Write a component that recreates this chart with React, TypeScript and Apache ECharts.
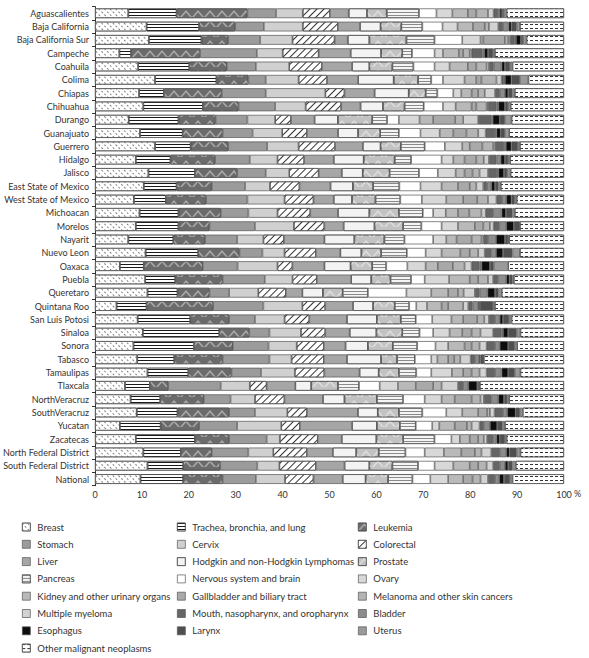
import { useEffect, useRef } from 'react';
import * as echarts from 'echarts';

// Share (%) of cancer deaths by site, per state
const states = [
  'Aguascalientes', 'Baja California', 'Baja California Sur', 'Campeche', 'Coahuila', 'Colima',
  'Chiapas', 'Chihuahua', 'Durango', 'Guanajuato', 'Guerrero', 'Hidalgo', 'Jalisco',
  'East State of Mexico', 'West State of Mexico', 'Michoacan', 'Morelos', 'Nayarit',
  'Nuevo Leon', 'Oaxaca', 'Puebla', 'Queretaro', 'Quintana Roo', 'San Luis Potosi',
  'Sinaloa', 'Sonora', 'Tabasco', 'Tamaulipas', 'Tlaxcala', 'NorthVeracruz', 'SouthVeracruz',
  'Yucatan', 'Zacatecas', 'North Federal District', 'South Federal District', 'National',
];

const sites = [
  'Breast', 'Trachea, bronchia, and lung', 'Leukemia', 'Stomach', 'Cervix', 'Colorectal',
  'Liver', 'Hodgkin and non-Hodgkin Lymphomas', 'Prostate', 'Pancreas', 'Nervous system and brain',
  'Ovary', 'Kidney and other urinary organs', 'Gallbladder and biliary tract',
  'Melanoma and other skin cancers', 'Multiple myeloma', 'Mouth, nasopharynx, and oropharynx',
  'Bladder', 'Esophagus', 'Larynx', 'Uterus', 'Other malignant neoplasms',
];

// one list per state, in the order of `sites`
const aguascalientes = [7.1, 10.3, 15.1, 6.1, 5.7, 5.8, 4.0, 3.9, 4.2, 6.9, 3.7, 3.4, 3.3, 1.8, 2.5, 1.2, 0.9, 0.4, 0.5, 0.4, 0.55, 12.25];
const bajaCalifornia = [11.0, 11.2, 7.7, 6.1, 8.3, 7.5, 4.7, 4.4, 4.4, 4.5, 4.3, 3.2, 3.3, 2.5, 0.9, 2.0, 1.0, 1.2, 0.6, 1.1, 0.7, 9.4];
const bajaCaliforniaSur = [11.5, 11.2, 5.7, 6.8, 6.9, 9.0, 2.8, 4.6, 7.9, 6.0, 5.9, 3.9, 0.6, 4.6, 0.7, 0.4, 1.0, 0.25, 1.05, 0.5, 0.7, 8.0];
const campeche = [5.2, 2.5, 14.7, 12.1, 5.5, 7.7, 6.8, 6.5, 4.5, 2.1, 4.8, 1.8, 3.4, 0.9, 1.4, 0.4, 2.3, 0.4, 0.8, 1.1, 0.35, 14.75];
const coahuila = [9.2, 10.9, 8.0, 6.2, 7.1, 7.0, 6.4, 3.7, 4.9, 4.5, 4.5, 3.2, 3.9, 1.8, 2.2, 0.5, 1.0, 1.7, 0.7, 1.1, 0.5, 11.0];
const colima = [12.8, 13.1, 6.8, 3.7, 7.0, 6.1, 6.6, 7.6, 5.2, 2.8, 2.5, 4.6, 2.5, 1.1, 3.2, 1.1, 0.5, 0.2, 1.4, 1.8, 1.8, 7.6];
const chiapas = [9.4, 5.3, 12.3, 9.4, 12.7, 4.1, 6.4, 7.3, 3.6, 2.5, 3.4, 1.7, 2.2, 1.4, 1.4, 2.2, 1.0, 1.1, 0.7, 0.9, 0.5, 10.5];
const chihuahua = [10.3, 12.7, 7.6, 7.8, 6.5, 7.6, 4.1, 4.8, 4.6, 4.1, 4.1, 2.7, 3.4, 1.0, 2.2, 0.3, 1.8, 0.4, 1.4, 0.7, 0.5, 11.4];
const durango = [7.2, 10.6, 7.9, 6.8, 5.9, 3.4, 5.0, 5.0, 7.3, 3.2, 2.5, 4.4, 2.9, 4.7, 1.7, 3.2, 2.8, 0.3, 1.5, 1.1, 1.4, 11.2];
const guanajuato = [9.6, 9.1, 8.5, 6.4, 6.3, 5.3, 6.6, 4.3, 4.7, 4.0, 4.6, 4.1, 2.9, 2.8, 2.5, 1.6, 2.0, 0.3, 0.9, 0.9, 0.9, 11.7];
const guerrero = [12.8, 7.6, 8.0, 8.3, 6.7, 7.8, 5.9, 3.8, 4.3, 5.1, 4.3, 3.7, 1.6, 2.7, 2.3, 0.4, 1.9, 0.4, 1.2, 1.4, 0.4, 9.4];
const hidalgo = [8.7, 7.4, 9.5, 7.4, 5.9, 5.7, 6.3, 6.4, 6.6, 3.5, 6.5, 2.5, 2.4, 2.5, 1.6, 1.1, 1.6, 0.9, 0.9, 0.7, 0.4, 11.5];
const jalisco = [11.4, 9.9, 9.0, 6.1, 5.0, 6.3, 4.9, 4.5, 5.7, 6.3, 4.0, 3.8, 1.9, 1.7, 1.5, 1.8, 1.9, 0.3, 1.2, 0.7, 0.7, 11.4];
const eastMexico = [10.4, 7.0, 7.5, 7.1, 5.3, 6.3, 6.6, 4.8, 4.3, 5.6, 4.5, 4.5, 3.5, 2.5, 1.4, 1.5, 0.8, 0.9, 0.8, 0.7, 0.5, 13.5];
const westMexico = [8.3, 6.8, 8.6, 8.8, 7.9, 6.2, 4.3, 3.9, 5.0, 5.3, 4.6, 5.2, 3.6, 3.0, 2.3, 1.8, 1.2, 0.9, 1.1, 0.7, 0.4, 10.1];
const michoacan = [9.5, 8.3, 9.0, 5.9, 6.2, 7.0, 5.9, 6.7, 6.3, 5.1, 2.2, 2.7, 2.6, 2.4, 2.6, 0.9, 1.6, 1.8, 0.9, 1.4, 0.5, 10.5];
const morelos = [8.7, 9.1, 6.6, 9.7, 8.3, 6.5, 4.1, 6.6, 6.1, 3.9, 4.3, 3.5, 3.6, 1.8, 1.4, 0.8, 1.2, 1.5, 1.6, 1.2, 0.1, 9.4];
const nayarit = [7.1, 9.6, 6.8, 6.8, 5.6, 4.4, 8.6, 6.4, 6.4, 4.3, 6.1, 2.8, 2.2, 3.2, 2.1, 0.4, 1.0, 1.7, 1.9, 0.7, 0.2, 11.7];
const nuevoLeon = [10.8, 11.2, 8.8, 4.9, 4.7, 6.7, 5.2, 4.5, 4.2, 5.5, 4.0, 3.4, 4.0, 2.0, 1.8, 1.4, 1.4, 1.0, 1.5, 2.0, 1.6, 9.4];
const oaxaca = [5.3, 5.1, 12.6, 7.4, 8.5, 3.2, 6.8, 5.6, 4.6, 3.0, 4.5, 3.9, 2.6, 3.2, 2.5, 1.5, 1.7, 0.4, 1.8, 0.8, 3.1, 11.9];
const puebla = [10.7, 6.4, 10.1, 9.0, 5.9, 5.2, 7.3, 4.3, 4.1, 4.4, 2.9, 5.2, 4.4, 1.8, 2.1, 1.1, 1.0, 1.8, 0.7, 0.6, 0.3, 10.7];
const queretaro = [11.2, 6.4, 6.8, 4.2, 6.2, 5.9, 3.5, 4.4, 4.2, 5.4, 8.2, 5.3, 3.6, 2.1, 1.2, 2.4, 1.0, 1.7, 1.6, 0.7, 0.7, 13.3];
const quintanaRoo = [4.6, 6.4, 14.2, 10.7, 8.3, 4.9, 5.9, 4.3, 4.6, 3.1, 1.5, 2.3, 3.1, 1.4, 3.2, 1.1, 0.9, 1.2, 0.35, 2.85, 0.35, 14.75];
const sanLuisPotosi = [9.1, 11.2, 8.3, 5.5, 6.3, 5.3, 8.0, 6.4, 5.1, 3.2, 3.5, 4.1, 2.5, 3.0, 1.5, 1.0, 1.3, 1.0, 0.7, 1.3, 0.5, 11.2];
const sinaloa = [10.2, 16.3, 6.4, 4.3, 6.7, 5.2, 5.2, 5.7, 5.5, 3.7, 2.9, 3.5, 2.7, 2.0, 1.9, 2.7, 1.8, 0.3, 1.1, 1.8, 0.8, 9.3];
const sonora = [8.2, 12.9, 8.3, 7.6, 6.0, 5.8, 4.6, 4.8, 5.3, 5.2, 3.9, 2.7, 3.5, 1.5, 1.7, 1.5, 1.8, 1.0, 1.8, 1.4, 0.5, 10.0];
const tabasco = [9.0, 7.9, 10.3, 10.0, 4.7, 6.9, 4.9, 7.3, 3.4, 3.8, 3.5, 1.3, 2.3, 1.3, 1.3, 2.2, 0.9, 0.9, 0.3, 0.6, 0.1, 17.1];
const tamaulipas = [11.2, 8.7, 9.2, 6.3, 7.2, 6.3, 7.5, 4.1, 4.3, 3.7, 3.2, 4.4, 2.4, 1.8, 1.7, 1.5, 1.8, 1.4, 1.4, 1.4, 1.2, 9.3];
const tlaxcala = [6.4, 5.3, 3.9, 11.2, 6.2, 3.6, 6.1, 3.4, 5.7, 4.5, 4.4, 3.9, 3.8, 3.7, 1.8, 3.5, 1.1, 1.1, 1.9, 0.4, 0.15, 17.95];
const northVeracruz = [7.6, 6.3, 9.3, 5.7, 5.2, 6.3, 8.2, 4.6, 6.9, 5.6, 4.6, 3.6, 2.8, 3.6, 1.9, 0.7, 1.6, 1.5, 1.2, 0.7, 0.4, 11.7];
const southVeracruz = [8.9, 8.7, 11.0, 5.5, 6.9, 4.2, 10.85, 4.25, 4.5, 5.0, 5.1, 3.4, 3.4, 1.9, 0.6, 1.0, 1.8, 0.9, 1.8, 0.9, 0.6, 8.8];
const yucatan = [5.3, 8.7, 8.2, 8.1, 9.4, 4.0, 11.1, 5.3, 4.9, 3.4, 3.5, 1.5, 3.3, 2.6, 1.0, 1.7, 0.9, 1.3, 1.55, 1.15, 0.5, 12.6];
const zacatecas = [8.7, 12.6, 7.3, 8.0, 2.8, 8.1, 5.1, 7.4, 5.7, 6.7, 3.6, 1.8, 2.1, 1.8, 1.2, 0.7, 1.3, 0.7, 0.7, 1.1, 0.35, 12.25];
const northFederalDistrict = [10.3, 8.0, 6.6, 7.8, 5.3, 7.2, 5.5, 5.0, 4.8, 5.7, 4.1, 4.1, 3.7, 2.9, 1.4, 2.1, 1.8, 1.4, 0.7, 1.5, 0.8, 9.3];
const southFederalDistrict = [11.2, 7.6, 7.9, 7.9, 4.7, 7.8, 6.1, 5.3, 4.9, 5.5, 3.5, 4.0, 3.5, 1.8, 1.8, 1.4, 1.4, 1.1, 0.7, 0.9, 0.7, 10.3];
const national = [9.7, 9.1, 8.4, 7.1, 6.2, 6.1, 6.2, 4.9, 4.8, 5.2, 3.8, 3.8, 3.2, 2.0, 1.7, 1.6, 1.5, 0.9, 1.0, 1.3, 0.5, 11.0];

const rows = [
  aguascalientes, bajaCalifornia, bajaCaliforniaSur, campeche, coahuila, colima, chiapas,
  chihuahua, durango, guanajuato, guerrero, hidalgo, jalisco, eastMexico, westMexico,
  michoacan, morelos, nayarit, nuevoLeon, oaxaca, puebla, queretaro, quintanaRoo,
  sanLuisPotosi, sinaloa, sonora, tabasco, tamaulipas, tlaxcala, northVeracruz,
  southVeracruz, yucatan, zacatecas, northFederalDistrict, southFederalDistrict, national,
];

const xTicks = [0, 10, 20, 30, 40, 50, 60, 70, 80, 90, 100];

// legend columns as laid out under the chart
const legendCol1 = [sites[0], sites[3], sites[6], sites[9], sites[12], sites[15], sites[18], sites[21]];
const legendCol2 = [sites[1], sites[4], sites[7], sites[10], sites[13], sites[16], sites[19]];
const legendCol3 = [sites[2], sites[5], sites[8], sites[11], sites[14], sites[17], sites[20]];

const FONT = 'Lato';
const zigzag = 'path://M0,10 L6,0 L12,10 L10,10 L6,3.4 L2,10 Z';

const fills: any[] = [
  { color: '#ffffff', decal: { symbol: 'rect', color: '#808080', dashArrayX: [2, 2], dashArrayY: [1, 3], rotation: Math.PI / 4 } },
  { color: '#ffffff', decal: { symbol: 'rect', color: '#1a1a1a', dashArrayX: [1, 0], dashArrayY: [1, 2] } },
  { color: '#6b6b6b', decal: { symbol: zigzag, symbolKeepAspect: false, color: '#a8a8a8', dashArrayX: [12, 0], dashArrayY: [7, 3] } },
  { color: '#9b9b9b' },
  { color: '#d0d0d0' },
  { color: '#ffffff', decal: { symbol: 'rect', color: '#333', dashArrayX: [1, 0], dashArrayY: [1, 4], rotation: -Math.PI / 4 } },
  { color: '#a6a6a6' },
  { color: '#f3f3f3', decal: { symbol: 'circle', color: '#c8c8c8', dashArrayX: [1, 3], dashArrayY: [1, 3] } },
  { color: '#c2c2c2', decal: { symbol: zigzag, symbolKeepAspect: false, color: '#dddddd', dashArrayX: [12, 0], dashArrayY: [7, 3] } },
  { color: '#f5f5f5', decal: { symbol: 'rect', color: '#8a8a8a', dashArrayX: [1, 0], dashArrayY: [1, 2] } },
  { color: '#ffffff' },
  { color: '#d8d8d8' },
  { color: '#b9b9b9' },
  { color: '#a9a9a9' },
  { color: '#b4b4b4' },
  { color: '#d2d2d2' },
  { color: '#656565' },
  { color: '#8c8c8c' },
  { color: '#0d0d0d' },
  { color: '#4f4f4f' },
  { color: '#9a9a9a' },
  { color: '#ffffff', decal: { symbol: 'rect', color: '#333', dashArrayX: [3, 2], dashArrayY: [1, 3] } },
];

function legendColumn(data: string[], left: number) {
  return {
    data,
    orient: 'vertical',
    left,
    top: 522,
    padding: 0,
    icon: 'rect',
    itemWidth: 8,
    itemHeight: 8,
    itemGap: 7.3,
    selectedMode: false,
    itemStyle: { borderColor: '#555', borderWidth: 0.7 },
    textStyle: { fontFamily: FONT, fontSize: 9.5, color: '#333', padding: [0, 0, 0, 2] },
  };
}

export default function App() {
  const chartRef = useRef<HTMLDivElement>(null);

  useEffect(() => {
    if (!chartRef.current) return;
    const chart = echarts.init(chartRef.current, undefined, { renderer: 'svg' });

    const series = sites.map((name, i) => ({
      name,
      type: 'bar',
      stack: 'total',
      barCategoryGap: '27%',
      data: rows.map((r) => r[i]),
      itemStyle: { ...fills[i], borderColor: '#555', borderWidth: 0.7 },
      emphasis: { disabled: true },
    }));

    chart.setOption({
      animation: false,
      backgroundColor: '#fff',
      textStyle: { fontFamily: FONT },
      grid: { left: 95, right: 25, top: 6.6, bottom: 172.3 },
      legend: [legendColumn(legendCol1, 22), legendColumn(legendCol2, 177), legendColumn(legendCol3, 358)],
      xAxis: {
        type: 'value',
        min: xTicks[0],
        max: xTicks[xTicks.length - 1],
        interval: 10,
        axisLine: { show: false },
        axisTick: { show: false },
        splitLine: { show: false },
        axisLabel: { fontFamily: FONT, fontSize: 9, color: '#333', margin: 4 },
      },
      yAxis: {
        type: 'category',
        inverse: true,
        data: states,
        axisLine: { show: true, lineStyle: { color: '#333', width: 1 } },
        axisTick: { show: true, length: 3, lineStyle: { color: '#333' } },
        axisLabel: { fontFamily: FONT, fontSize: 9, color: '#333', margin: 6 },
      },
      graphic: [
        { type: 'text', left: 574, top: 489, style: { text: '%', fontFamily: FONT, fontSize: 9, fill: '#333' } },
      ],
      series,
    });

    return () => chart.dispose();
  }, []);

  return (
    <div
      ref={chartRef}
      style={{ position: 'absolute', left: 0, top: 0, width: 589, height: 658, background: '#fff' }}
    />
  );
}
